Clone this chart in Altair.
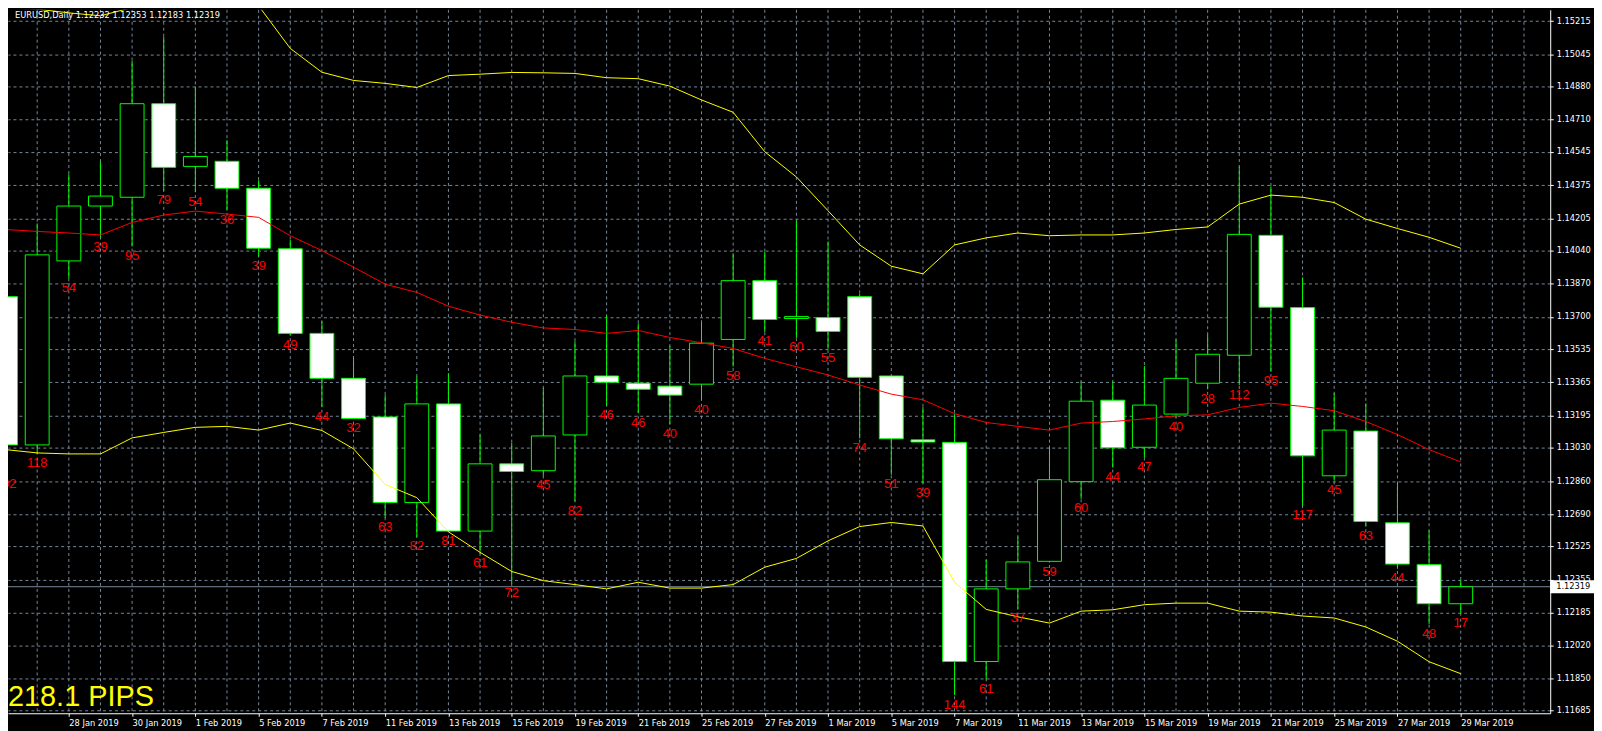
import json
import altair as alt
import pandas as pd

# ---------------- data ----------------
dates = ["24 Jan 2019", "25 Jan 2019", "28 Jan 2019", "29 Jan 2019", "30 Jan 2019", "31 Jan 2019",
         "1 Feb 2019", "4 Feb 2019", "5 Feb 2019", "6 Feb 2019", "7 Feb 2019", "8 Feb 2019",
         "11 Feb 2019", "12 Feb 2019", "13 Feb 2019", "14 Feb 2019", "15 Feb 2019",
         "18 Feb 2019", "19 Feb 2019", "20 Feb 2019", "21 Feb 2019", "22 Feb 2019",
         "25 Feb 2019", "26 Feb 2019", "27 Feb 2019", "28 Feb 2019",
         "1 Mar 2019", "4 Mar 2019", "5 Mar 2019", "6 Mar 2019", "7 Mar 2019", "8 Mar 2019",
         "11 Mar 2019", "12 Mar 2019", "13 Mar 2019", "14 Mar 2019", "15 Mar 2019",
         "18 Mar 2019", "19 Mar 2019", "20 Mar 2019", "21 Mar 2019", "22 Mar 2019",
         "25 Mar 2019", "26 Mar 2019", "27 Mar 2019", "28 Mar 2019", "29 Mar 2019"]

opens = [1.13804, 1.13045, 1.13987, 1.14268, 1.14313, 1.14792, 1.14471, 1.14497, 1.14359, 1.14049,
         1.13616, 1.13386, 1.13188, 1.12750, 1.13255, 1.12604, 1.12948, 1.12913, 1.13096, 1.13398,
         1.13361, 1.13346, 1.13356, 1.13585, 1.13886, 1.13692, 1.13697, 1.13804, 1.13398, 1.13071,
         1.13058, 1.11936, 1.12308, 1.12449, 1.12857, 1.13274, 1.13033, 1.13203, 1.13361, 1.13504,
         1.14118, 1.13748, 1.12887, 1.13116, 1.12646, 1.12432, 1.12232]
highs = [1.13913, 1.14179, 1.14431, 1.14497, 1.15011, 1.15135, 1.14879, 1.14605, 1.14400, 1.14094,
         1.13678, 1.13498, 1.13301, 1.13395, 1.13412, 1.13098, 1.13055, 1.13337, 1.13576, 1.13707,
         1.13667, 1.13551, 1.13673, 1.14026, 1.14033, 1.14193, 1.14087, 1.13819, 1.13401, 1.13239,
         1.13205, 1.12456, 1.12576, 1.13033, 1.13369, 1.13369, 1.13449, 1.13585, 1.13610, 1.14471,
         1.14369, 1.13902, 1.13311, 1.13257, 1.12852, 1.12607, 1.12353]
lows = [1.12894, 1.12999, 1.13896, 1.14107, 1.14061, 1.14346, 1.14339, 1.14245, 1.14010, 1.13604,
        1.13238, 1.13178, 1.12671, 1.12574, 1.12602, 1.12487, 1.12335, 1.12887, 1.12756, 1.13247,
        1.13207, 1.13151, 1.13273, 1.13446, 1.13623, 1.13593, 1.13537, 1.13079, 1.12892, 1.12848,
        1.11764, 1.11845, 1.12206, 1.12443, 1.12769, 1.12929, 1.12979, 1.13185, 1.13330, 1.13351,
        1.13419, 1.12732, 1.12862, 1.12627, 1.12411, 1.12127, 1.12183]
closes = [1.13045, 1.14018, 1.14268, 1.14319, 1.14792, 1.14466, 1.14522, 1.14359, 1.14052, 1.13616,
          1.13386, 1.13180, 1.12750, 1.13255, 1.12604, 1.12948, 1.12909, 1.13091, 1.13398, 1.13366,
          1.13330, 1.13300, 1.13566, 1.13886, 1.13687, 1.13702, 1.13626, 1.13391, 1.13076, 1.13060,
          1.11936, 1.12308, 1.12446, 1.12867, 1.13269, 1.13030, 1.13249, 1.13386, 1.13509, 1.14123,
          1.13750, 1.12989, 1.13121, 1.12653, 1.12435, 1.12232, 1.12319]
pips = [102, 118, 54, 39, 95, 79, 54, 36, 39, 49, 44, 32, 63, 82, 81, 61, 72, 45, 82, 46, 46, 40,
        40, 58, 41, 60, 55, 74, 51, 39, 144, 61, 37, 59, 60, 44, 47, 40, 28, 112, 95, 117, 45, 63,
        44, 48, 17]

ma_mid = [1.14148, 1.14138, 1.14130, 1.14120, 1.14184, 1.14222, 1.14242, 1.14227, 1.14210, 1.14116,
          1.14040, 1.13955, 1.13868, 1.13826, 1.13755, 1.13710, 1.13673, 1.13644, 1.13636, 1.13616,
          1.13631, 1.13595, 1.13568, 1.13539, 1.13488, 1.13445, 1.13403, 1.13352, 1.13305, 1.13276,
          1.13205, 1.13160, 1.13140, 1.13121, 1.13157, 1.13165, 1.13178, 1.13194, 1.13199, 1.13237,
          1.13259, 1.13242, 1.13220, 1.13165, 1.13098, 1.13021, 1.12958]
band_upper = [1.15283, 1.15276, 1.15257, 1.15242, 1.15284, 1.15323, 1.15329, 1.15313, 1.15293, 1.15075,
              1.14953, 1.14911, 1.14896, 1.14875, 1.14936, 1.14943, 1.14952, 1.14950, 1.14947, 1.14925,
              1.14920, 1.14882, 1.14811, 1.14748, 1.14546, 1.14417, 1.14244, 1.14069, 1.13960, 1.13921,
              1.14069, 1.14105, 1.14130, 1.14116, 1.14120, 1.14120, 1.14130, 1.14148, 1.14161, 1.14278,
              1.14324, 1.14313, 1.14286, 1.14201, 1.14153, 1.14108, 1.14052]
band_lower = [1.13021, 1.13004, 1.12999, 1.12999, 1.13081, 1.13109, 1.13135, 1.13140, 1.13121, 1.13157,
              1.13119, 1.13025, 1.12843, 1.12775, 1.12600, 1.12495, 1.12397, 1.12350, 1.12330, 1.12308,
              1.12342, 1.12312, 1.12312, 1.12330, 1.12419, 1.12464, 1.12554, 1.12627, 1.12648, 1.12630,
              1.12342, 1.12203, 1.12165, 1.12133, 1.12194, 1.12201, 1.12227, 1.12235, 1.12235, 1.12194,
              1.12189, 1.12169, 1.12159, 1.12113, 1.12040, 1.11935, 1.11874]

price_ticks = [1.15215, 1.15045, 1.14880, 1.14710, 1.14545, 1.14375, 1.14205, 1.14040, 1.13870,
               1.13700, 1.13535, 1.13365, 1.13195, 1.13030, 1.12860, 1.12690, 1.12525, 1.12355,
               1.12185, 1.12020, 1.11850, 1.11685]
date_ticks = list(range(0, 47, 2))
grid_slots = list(range(0, 49))

current_price = 1.12319
header = "EURUSD,Daily  1.12232 1.12353 1.12183 1.12319"
pips_text = "218.1 PIPS"

# ---------------- layout ----------------
W, H = 1550, 707
x_domain = [7.5 / 32, (W + 7.5) / 32]
y_domain = [1.116712, 1.152726]
px = (y_domain[1] - y_domain[0]) / H

GREEN = "#00FF00"
GRID = "#778899"

df = pd.DataFrame({
    "i": list(range(len(dates))), "date": dates, "open": opens, "high": highs,
    "low": lows, "close": closes, "pips": pips,
    "mid": ma_mid, "upper": band_upper, "lower": band_lower,
})
df["top"] = df[["open", "close"]].max(axis=1)
df["bot"] = df[["open", "close"]].min(axis=1)

xscale = alt.Scale(domain=x_domain, nice=False, zero=False)
yscale = alt.Scale(domain=y_domain, nice=False, zero=False)

label_expr = "(" + json.dumps(dates) + ")[datum.value]"
x_axis = alt.Axis(values=date_ticks, labelExpr=label_expr, grid=False, title=None,
                  labelAlign="left", labelPadding=2, tickSize=3, labelFlush=False,
                  labelOverlap=False, labelBaseline="top")
y_axis = alt.Axis(values=price_ticks, format=".5f", orient="right", title=None,
                  grid=True, gridColor=GRID, gridDash=[3, 3], gridWidth=1,
                  tickSize=3, labelPadding=3, labelOverlap=False)


def X(field):
    return alt.X(field, type="quantitative", scale=xscale, axis=x_axis)


def Y(field):
    return alt.Y(field, type="quantitative", scale=yscale, axis=y_axis)


vgrid = alt.Chart(pd.DataFrame({"g": grid_slots})).mark_rule(
    color=GRID, strokeDash=[3, 3], strokeWidth=1
).encode(x=X("g"))

price_line = alt.Chart(pd.DataFrame({"p": [current_price]})).mark_rule(
    color=GRID, strokeWidth=1
).encode(y=Y("p"))

wicks = alt.Chart(df).mark_rule(color=GREEN, strokeWidth=1, clip=True).encode(
    x=X("i"), y=Y("low"), y2="high:Q",
)

bodies = alt.Chart(df).mark_bar(size=24, stroke=GREEN, strokeWidth=1, clip=True).encode(
    x=X("i"), y=Y("top"), y2="bot:Q",
    fill=alt.condition("datum.close < datum.open", alt.value("#FFFFFF"), alt.value("#000000")),
)

upper_line = alt.Chart(df).mark_line(color="#FFFF00", strokeWidth=1, clip=True).encode(
    x=X("i"), y=Y("upper"))
lower_line = alt.Chart(df).mark_line(color="#FFFF00", strokeWidth=1, clip=True).encode(
    x=X("i"), y=Y("lower"))
mid_line = alt.Chart(df).mark_line(color="#FF0000", strokeWidth=1, clip=True).encode(
    x=X("i"), y=Y("mid"))

pip_labels = alt.Chart(df).mark_text(
    color="#FF0000", font="Liberation Sans", fontSize=13, baseline="top", align="center",
    dy=3.5, clip=True
).encode(x=X("i"), y=Y("low"), text="pips:Q")

header_text = alt.Chart(pd.DataFrame({"t": [header]})).mark_text(
    color="#FFFFFF", font="DejaVu Sans", fontSize=8.3, align="left", baseline="alphabetic"
).encode(x=alt.value(7), y=alt.value(8), text="t:N")

pips_big = alt.Chart(pd.DataFrame({"t": [pips_text]})).mark_text(
    color="#FFFF00", font="Liberation Sans", fontSize=29, align="left", baseline="alphabetic"
).encode(x=alt.value(0), y=alt.value(700), text="t:N")

box = alt.Chart(pd.DataFrame({"a": [current_price + 6.5 * px], "b": [current_price - 6.5 * px]})).mark_rect(
    color="#FFFFFF"
).encode(x=alt.value(W), x2=alt.value(W + 44), y=Y("a"), y2="b:Q")

box_text = alt.Chart(pd.DataFrame({"p": [current_price], "t": [f"{current_price:.5f}"]})).mark_text(
    color="#000000", font="DejaVu Sans", fontSize=8.3, align="left", baseline="middle"
).encode(x=alt.value(W + 6), y=Y("p"), text="t:N")

chart = alt.layer(
    vgrid, price_line, wicks, bodies, upper_line, lower_line, mid_line,
    pip_labels, header_text, pips_big, box, box_text
).properties(
    width=W, height=H,
    autosize=alt.AutoSizeParams(type="none"),
    padding={"left": 0, "top": 0, "right": 44, "bottom": 16},
).configure(
    background="#000000"
).configure_view(
    strokeWidth=0
).configure_axis(
    labelFont="DejaVu Sans", labelFontSize=8.3, labelColor="#FFFFFF",
    domainColor="#FFFFFF", domainWidth=1, tickColor="#FFFFFF", tickWidth=1
)

chart.save("out.html", embed_options={"renderer": "svg", "actions": False})
